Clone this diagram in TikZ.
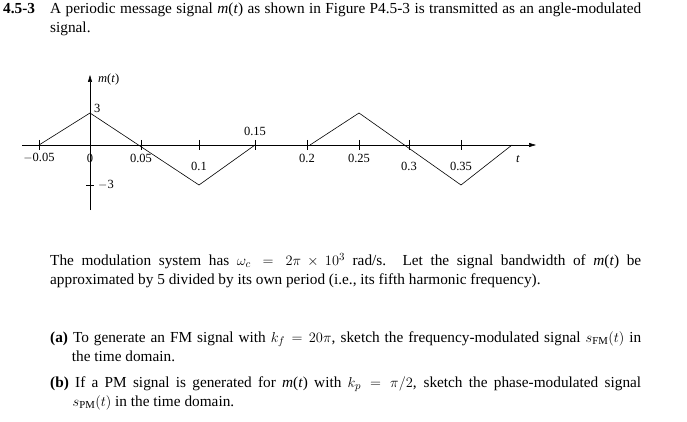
\documentclass[tikz,border=0pt]{standalone}
\usepackage{fontspec}
\setmainfont{Liberation Serif}
\usepackage{amsmath}
\usetikzlibrary{arrows.meta}
\begin{document}
\begin{tikzpicture}[x=1pt,y=-1pt,
  txt/.style={anchor=north west,inner sep=0pt,font=\fontsize{15.3}{19}\selectfont,text width=591pt,align=justify},
  lab/.style={inner sep=1pt,font=\fontsize{12.5}{14}\selectfont},
  wave/.style={line width=0.6pt},
  ax/.style={line width=0.6pt,-{Triangle[length=7pt,width=4pt]}}]
\useasboundingbox (0,0) rectangle (687,422);
% header
\node[txt,text width=45pt,align=left] (num) at (3,3) {\textbf{4.5-3}};
\node[txt] (intro) at (50,3) {A periodic message signal \textit{m}(\textit{t}) as shown in Figure P4.5-3 is transmitted as an angle-modulated\linebreak signal.};
% axes
\coordinate (xl) at (22,145);
\coordinate (xr) at (536,145);
\coordinate (yb) at (90,210);
\coordinate (yt) at (90,75);
\draw[ax] (xl) -- (xr);
\draw[ax] (yb) -- (yt);
\node[lab,anchor=west] (mt) at (97,79) {\textit{m}(\textit{t})};
\node[lab,anchor=south west] (l3) at (93,114) {3};
\draw (86,185) -- (94,185);
\node[lab,anchor=west] (lm3) at (97,185) {$-$3};
% ticks
\foreach \x/\l/\d in {39/$-$0.05/9, 90/0/9, 141/0.05/9, 199/0.1/17, 307/0.2/9, 359/0.25/9, 409/0.3/17, 461/0.35/17}{
  \draw (\x,140) -- (\x,150);
  \node[lab] at (\x,150+\d-1) {\l};
}
\draw (255,140) -- (255,150);
\node[lab] (l15) at (255,131) {0.15};
\node[lab] (lt) at (518,159) {\textit{t}};
% waveform
\draw[wave] (39,145) -- (90,113) -- (199,185) -- (255,145);
\draw[wave] (310,145) -- (359,113) -- (461,185) -- (512,145);
% body text
\node[txt] (p1) at (50,253) {The modulation system has $\omega_c = 2\pi \times 10^3$ rad/s. Let the signal bandwidth of \textit{m}(\textit{t}) be\linebreak approximated by 5 divided by its own period (i.e., its fifth harmonic frequency).};
\node[txt] (pa) at (50,331) {\textbf{(a)} To generate an FM signal with $k_f = 20\pi$, sketch the frequency-modulated signal $s_{\mathrm{FM}}(t)$ in\linebreak\phantom{\textbf{(a)} }the time domain.};
\node[txt] (pb) at (50,376) {\textbf{(b)} If a PM signal is generated for \textit{m}(\textit{t}) with $k_p = \pi/2$, sketch the phase-modulated signal\linebreak\phantom{\textbf{(b)} }$s_{\mathrm{PM}}(t)$ in the time domain.};
\end{tikzpicture}
\end{document}
